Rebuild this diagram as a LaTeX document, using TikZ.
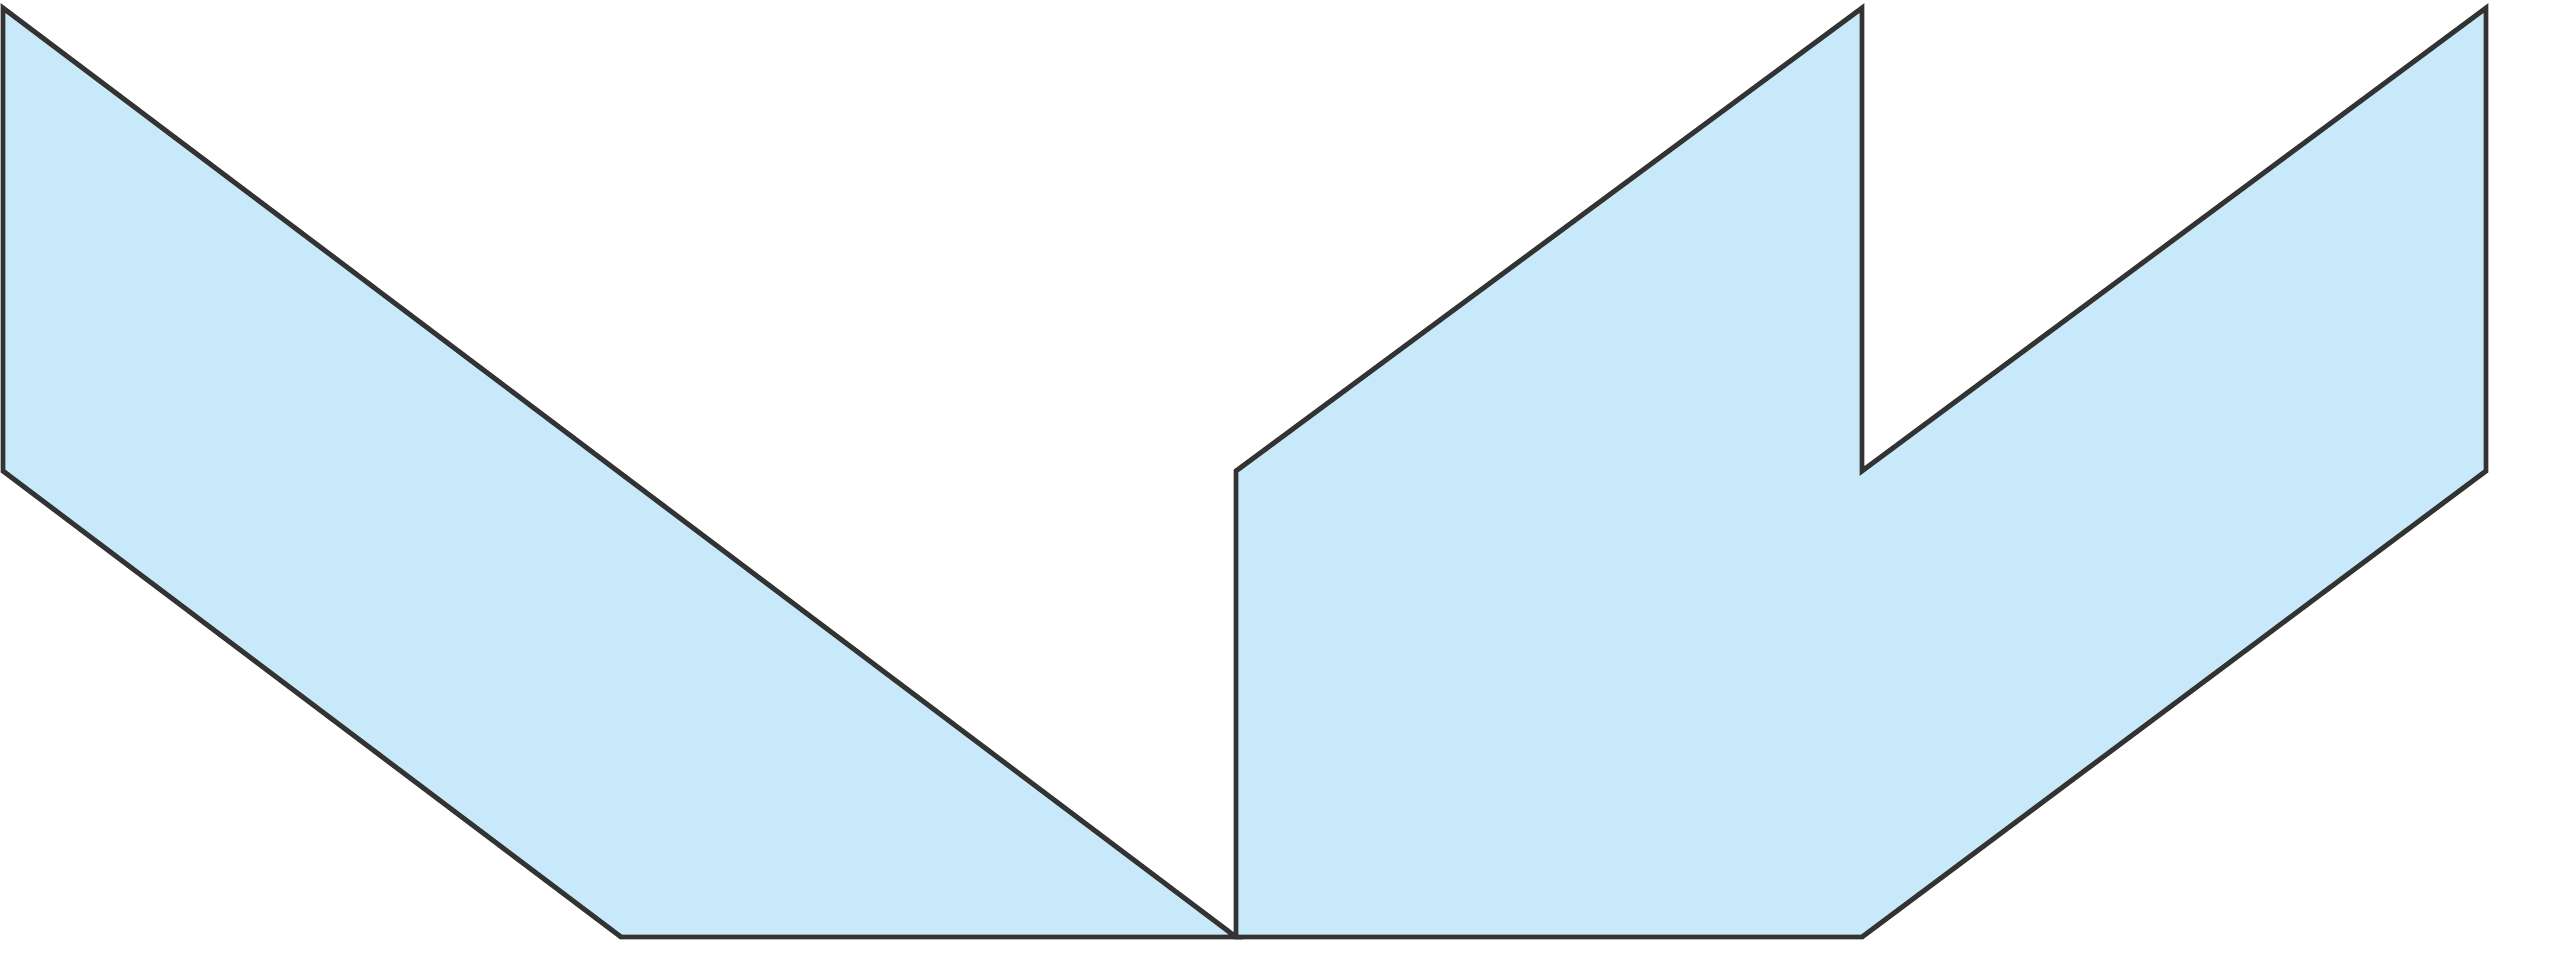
\documentclass[tikz,border=0pt]{standalone}
\definecolor{fillblue}{HTML}{C8E9F9}
\definecolor{edge}{HTML}{333333}
\tikzset{piece/.style={fill=fillblue,draw=edge,line width=1.4pt,line join=miter}}
\begin{document}
\begin{tikzpicture}[x=0.01cm,y=-0.01cm]
\useasboundingbox (0,0) rectangle (2560,971);
\coordinate (a) at (3,8);
\coordinate (b) at (3,471);
\coordinate (c) at (621,937);
\coordinate (d) at (1236,937);
\coordinate (e) at (1236,471);
\coordinate (f) at (1862,8);
\coordinate (g) at (1862,471);
\coordinate (h) at (2486,8);
\coordinate (i) at (2486,471);
\coordinate (j) at (1862,937);
\draw[piece] (a) -- (b) -- (c) -- (d) -- cycle;
\draw[piece] (d) -- (e) -- (f) -- (g) -- (h) -- (i) -- (j) -- cycle;
\end{tikzpicture}
\end{document}
